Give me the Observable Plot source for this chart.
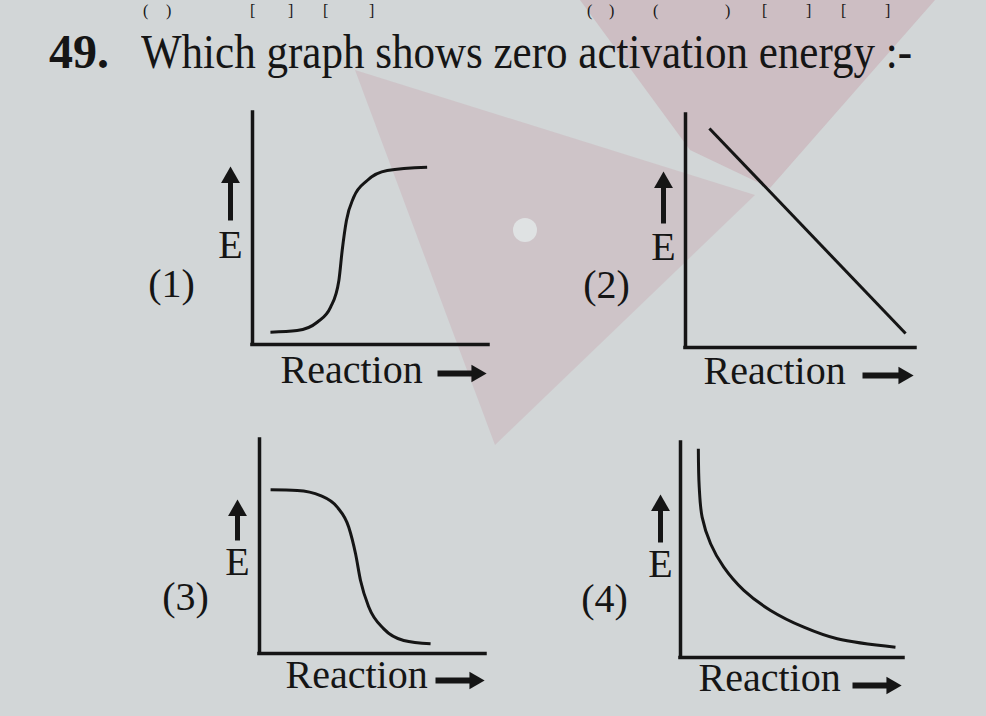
<!DOCTYPE html>
<html><head><meta charset="utf-8">
<script src="https://cdn.jsdelivr.net/npm/d3@7"></script>
<script src="https://cdn.jsdelivr.net/npm/@observablehq/plot@0.6"></script>
<style>
html,body{margin:0;padding:0;}
body{width:986px;height:716px;overflow:hidden;background:#d2d6d7;position:relative;font-family:"Liberation Serif","Times New Roman",serif;color:#151515;}
#wm{position:absolute;left:0;top:0;}
.abs{position:absolute;white-space:nowrap;line-height:48px;font-size:48px;}
.frag{position:absolute;white-space:nowrap;line-height:18px;font-size:16px;}
.panel{position:absolute;}
.panel svg{overflow:visible;}
</style></head><body>
<svg id="wm" width="986" height="716">
  <polygon points="355,70 755,195 495,445" fill="rgba(185,95,115,0.14)"/>
  <polygon points="580,0 935,0 770,188 690,150" fill="rgba(185,95,115,0.2)"/>
  <circle cx="525" cy="230" r="12" fill="#dfe2e3"/>
</svg>
<div id="root"></div>
<script>
// ---- text ----
const titleNumber = "49.";
const titleText = "Which graph shows zero activation energy :-";
const panelLabels = ["(1)", "(2)", "(3)", "(4)"];
const yLabel = "E";
const xLabel = "Reaction";
const topFragments = ["(", ")", "[", "]", "[", "]", "(", ")", "(", ")", "[", "]", "[", "]"];

// ---- curves (reaction coordinate 0-100, energy 0-100) ----
const curve1X = [7.6, 18.9, 27.4, 33.1, 36.6, 38.0, 39.8, 42.9, 48.6, 57.1, 74.0];
const curve1Y = [5.3, 6.0, 9.6, 16.1, 27.6, 40.5, 53.4, 63.5, 70.7, 75.0, 76.4];
const curve2X = [10.4, 95.7];
const curve2Y = [94.0, 6.0];
const curve3X = [4.9, 16.7, 27.0, 34.4, 39.5, 42.5, 44.7, 48.4, 55.0, 63.8, 75.7];
const curve3Y = [76.5, 76.2, 73.8, 68.4, 59.0, 46.6, 34.1, 21.6, 11.5, 6.1, 4.5];
const curve4X = [8.0, 8.4, 9.7, 13.5, 19.4, 28.4, 40.4, 55.3, 70.3, 96.4];
const curve4Y = [97.1, 79.2, 65.3, 52.9, 42.0, 31.2, 21.9, 14.1, 8.7, 4.8];

const curvesX = [curve1X, curve2X, curve3X, curve4X];
const curvesY = [curve1Y, curve2Y, curve3Y, curve4Y];

// ---- layout ----
const ink = "#151515";
const fragX = [143, 166, 250, 288, 323, 369, 587, 609, 653, 725, 762, 806, 841, 885];
const layout = [
  {left:252, top:112, right:488, bottom:344, eX:-22, eY:-99, aBase:-124, aTip:-177, nX:-81, nY:-60, rX:28, rB:38, raA:185, raB:233, raY:29, curve:"monotone-x"},
  {left:685, top:114, right:915, bottom:347, eX:-22, eY:-100, aBase:-124, aTip:-175, nX:-79, nY:-62, rX:18, rB:36, raA:177, raB:227, raY:28, curve:"linear"},
  {left:259, top:439, right:485, bottom:653, eX:-22, eY:-91, aBase:-113, aTip:-153, nX:-74, nY:-56, rX:26, rB:34, raA:176, raB:224, raY:27, curve:"monotone-x"},
  {left:680, top:442, right:903, bottom:657, eX:-20, eY:-93, aBase:-115, aTip:-162, nX:-76, nY:-58, rX:18, rB:33, raA:172, raB:220, raY:28, curve:"catmull-rom"}
];

const root = document.getElementById("root");

// title
const num = document.createElement("div");
num.className = "abs"; num.style.left = "49px"; num.style.top = "28px"; num.style.fontWeight = "bold";
num.textContent = titleNumber; root.appendChild(num);
const tt = document.createElement("div");
tt.className = "abs"; tt.style.left = "141px"; tt.style.top = "28px"; tt.style.transformOrigin = "0 0";
tt.textContent = titleText; root.appendChild(tt);
tt.style.transform = `scaleX(${771 / tt.getBoundingClientRect().width})`;

// fragments of the previous line (bottoms of brackets)
topFragments.forEach((c, i) => {
  const s = document.createElement("div");
  s.className = "frag"; s.style.left = fragX[i] + "px"; s.style.top = "2px";
  s.textContent = c; root.appendChild(s);
});

const ml = 115, mr = 12, mt = 12, mb = 60;
layout.forEach((L, i) => {
  const fw = L.right - L.left, fh = L.bottom - L.top;
  const X = d => d / fw * 100, Y = d => -d / fh * 100;
  const data = curvesX[i].map((x, j) => ({x, y: curvesY[i][j]}));
  const chart = Plot.plot({
    width: ml + fw + mr, height: mt + fh + mb,
    marginLeft: ml, marginRight: mr, marginTop: mt, marginBottom: mb,
    x: {domain: [0, 100], axis: null},
    y: {domain: [0, 100], axis: null},
    style: {background: "transparent", fontFamily: "Liberation Serif, Times New Roman, serif", color: ink, overflow: "visible"},
    marks: [
      Plot.ruleX([0], {y1: 0, y2: 100, stroke: ink, strokeWidth: 3.5, strokeLinecap: "square"}),
      Plot.ruleY([0], {x1: 0, x2: 100, stroke: ink, strokeWidth: 3.5, strokeLinecap: "square"}),
      Plot.line(data, {x: "x", y: "y", curve: L.curve, stroke: ink, strokeWidth: 3, strokeLinecap: "butt"}),
      // up arrow over E
      Plot.link([0], {x1: () => X(L.eX), x2: () => X(L.eX), y1: () => Y(L.aBase), y2: () => Y(L.aTip + 13), stroke: ink, strokeWidth: 5}),
      Plot.dot([0], {x: () => X(L.eX), y: () => Y(L.aTip + 10), symbol: "triangle", r: 7, fill: ink, stroke: "none"}),
      Plot.text([yLabel], {text: d => d, frameAnchor: "bottom-left", dx: L.eX, dy: L.eY, fontSize: 40, textAnchor: "middle", lineAnchor: "middle", fill: ink}),
      Plot.text([panelLabels[i]], {text: d => d, frameAnchor: "bottom-left", dx: L.nX, dy: L.nY, fontSize: 40, textAnchor: "middle", lineAnchor: "middle", fill: ink}),
      Plot.text([xLabel], {text: d => d, frameAnchor: "bottom-left", dx: L.rX, dy: L.rB, fontSize: 40, textAnchor: "start", lineAnchor: "bottom", fill: ink}),
      // right arrow after Reaction
      Plot.link([0], {x1: () => X(L.raA), x2: () => X(L.raB - 12), y1: () => Y(L.raY), y2: () => Y(L.raY), stroke: ink, strokeWidth: 6}),
      Plot.dot([0], {x: () => X(L.raB - 9), y: () => Y(L.raY), symbol: "triangle", rotate: 90, r: 6.5, fill: ink, stroke: "none"})
    ]
  });
  const wrap = document.createElement("div");
  wrap.className = "panel";
  wrap.style.left = (L.left - ml) + "px";
  wrap.style.top = (L.top - mt) + "px";
  wrap.appendChild(chart);
  root.appendChild(wrap);
});
</script>
</body></html>
